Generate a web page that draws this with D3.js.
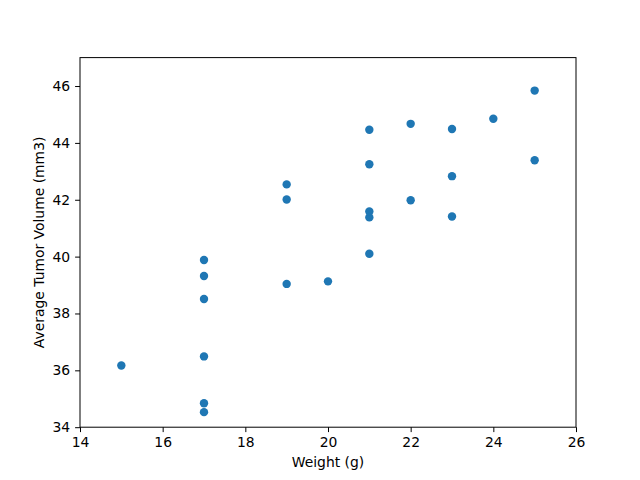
<!DOCTYPE html>
<html lang="en">
  <head>
    <meta charset="UTF-8" />
    <script src="https://cdn.jsdelivr.net/npm/d3@7"></script>
    <style>
      body { margin: 0; background: #fff; }
      svg text { font-family: "DejaVu Sans", sans-serif; }
    </style>
    <title>Weight vs Average Tumor Volume</title>
  </head>
  <body>
    <div id="chart"></div>
    <script>
      // mouse weight (g) and average tumor volume (mm3)
      var weights = [15, 17, 17, 17, 17, 17, 17, 19, 19, 19, 20, 21, 21, 21, 21, 21,
                     22, 22, 23, 23, 23, 24, 25, 25];
      var volumes = [36.17, 39.88, 39.32, 38.51, 36.49, 34.84, 34.53, 39.04, 42.01, 42.54,
                     39.13, 40.10, 41.38, 41.59, 43.25, 44.46, 41.98, 44.67, 41.41, 42.83,
                     44.49, 44.85, 43.39, 45.84];
      var xTicks = [14, 16, 18, 20, 22, 24, 26];
      var yTicks = [34, 36, 38, 40, 42, 44, 46];

      var width = 640, height = 480;
      var margin = { top: 57.6, right: 64, bottom: 52.8, left: 80 };

      var svg = d3.select("#chart").append("svg")
        .attr("width", width)
        .attr("height", height);

      var x = d3.scaleLinear().domain([14, 26])
        .range([margin.left, width - margin.right]);
      var y = d3.scaleLinear().domain([34, 47])
        .range([height - margin.bottom, margin.top]);

      var points = weights.map(function (w, i) { return { w: w, v: volumes[i] }; });

      svg.append("g")
        .selectAll("circle")
        .data(points)
        .enter().append("circle")
        .attr("cx", function (d) { return x(d.w); })
        .attr("cy", function (d) { return y(d.v); })
        .attr("r", 4.2)
        .attr("fill", "#1f77b4");

      var xAxis = svg.append("g")
        .attr("transform", "translate(0," + (height - margin.bottom) + ")")
        .call(d3.axisBottom(x).tickValues(xTicks).tickSize(4.9).tickPadding(4.9)
          .tickFormat(d3.format("d")));
      var yAxis = svg.append("g")
        .attr("transform", "translate(" + margin.left + ",0)")
        .call(d3.axisLeft(y).tickValues(yTicks).tickSize(4.9).tickPadding(4.9)
          .tickFormat(d3.format("d")));

      [xAxis, yAxis].forEach(function (g) {
        g.select(".domain").remove();
        g.selectAll(".tick line").attr("stroke", "#000").attr("stroke-width", 1);
        g.selectAll(".tick text").attr("fill", "#000").style("font-size", "13.9px");
      });

      // frame
      svg.append("rect")
        .attr("x", margin.left)
        .attr("y", margin.top)
        .attr("width", width - margin.left - margin.right)
        .attr("height", height - margin.top - margin.bottom)
        .attr("fill", "none")
        .attr("stroke", "#000")
        .attr("stroke-width", 1);

      svg.append("text")
        .attr("x", (margin.left + width - margin.right) / 2)
        .attr("y", 467)
        .attr("text-anchor", "middle")
        .style("font-size", "13.9px")
        .text("Weight (g)");

      svg.append("text")
        .attr("transform", "translate(44," + ((margin.top + height - margin.bottom) / 2) + ") rotate(-90)")
        .attr("text-anchor", "middle")
        .style("font-size", "13.9px")
        .text("Average Tumor Volume (mm3)");
    </script>
  </body>
</html>
